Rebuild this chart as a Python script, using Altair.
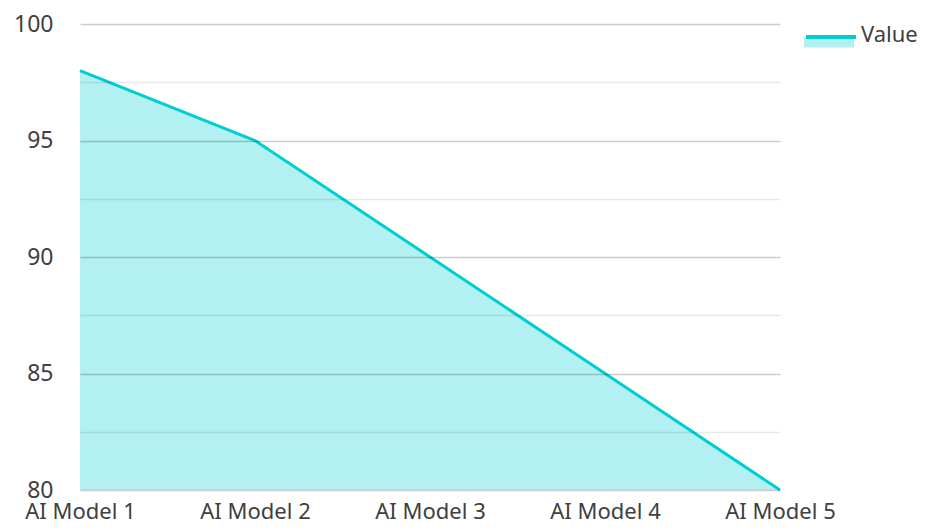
import altair as alt
import pandas as pd

models = ["AI Model 1", "AI Model 2", "AI Model 3", "AI Model 4", "AI Model 5"]
values = [98, 95, 90, 85, 80]
series_name = "Value"
y_ticks = [80, 82.5, 85, 87.5, 90, 92.5, 95, 97.5, 100]

df = pd.DataFrame({
    "model": models,
    "value": values,
    "series_fill": [series_name] * len(models),
    "series_line": [series_name] * len(models),
})

FONT = "Noto Sans"
TXT = "#404040"
LINE = "#00CED1"
FILL = "#b2f0f1"

x = alt.X(
    "model:N", sort=models,
    scale=alt.Scale(type="point", padding=0),
    axis=alt.Axis(title=None, labelAngle=0, ticks=False, domain=False, grid=False,
                  labelPadding=11, labelFontSize=22, labelColor=TXT, labelFont=FONT),
)
y = alt.Y(
    "value:Q",
    scale=alt.Scale(domain=[80, 100], nice=False, zero=False),
    axis=alt.Axis(title=None, values=y_ticks, ticks=False, domain=False,
                  labelExpr="datum.value % 5 === 0 ? datum.label : ''",
                  labelPadding=27, labelFontSize=23, labelColor=TXT, labelFont=FONT,
                  gridColor="#000000",
                  gridOpacity={"condition": {"test": "datum.value % 5 === 0", "value": 0.2},
                               "value": 0.09},
                  gridWidth=1.5, zindex=1),
)

legend_common = dict(orient="none", legendX=724, legendY=-14, title=None,
                     labelFontSize=22, labelColor=TXT, labelFont=FONT,
                     symbolSize=2500, labelOffset=7)

area = alt.Chart(df).mark_area().encode(
    x=x, y=y, y2=alt.datum(80),
    fill=alt.Fill("series_fill:N", scale=alt.Scale(range=[FILL]),
                  legend=alt.Legend(symbolType="M-1,0.09L1,0.09L1,0.5L-1,0.5Z",
                                    symbolStrokeWidth=0, **legend_common)),
)
line = alt.Chart(df).mark_line(strokeWidth=3).encode(
    x=x, y=y,
    stroke=alt.Stroke("series_line:N", scale=alt.Scale(range=[LINE]),
                      legend=alt.Legend(symbolType="M-1,0L1,0", symbolStrokeWidth=4,
                                        symbolFillColor="transparent", labelExpr="''",
                                        **legend_common)),
)

chart = alt.layer(area, line).properties(
    width=700, height=466,
    autosize=alt.AutoSizeParams(type="none"),
    padding={"left": 72, "top": 16, "right": 143, "bottom": 34},
).configure(font=FONT).configure_view(stroke=None)

chart.save("out.html", embed_options={"renderer": "svg", "actions": False})
